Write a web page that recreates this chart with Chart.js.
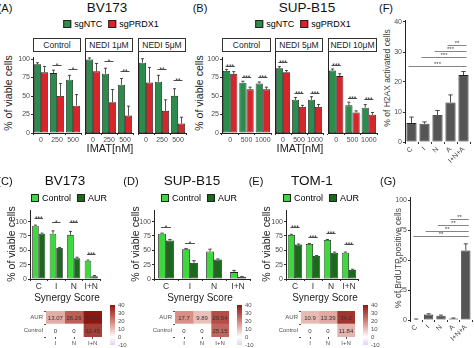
<!DOCTYPE html>
<html>
<head>
<meta charset="utf-8">
<script src="https://cdn.jsdelivr.net/npm/chart.js@4.4.0/dist/chart.umd.min.js"></script>
<style>
  body { margin: 0; background: #fff; }
  #fig { position: relative; width: 474px; height: 348px; overflow: hidden; font-family: "Liberation Sans", Arial, sans-serif; }
  .t { position: absolute; white-space: nowrap; line-height: 1; }
  .strip { position: absolute; box-sizing: border-box; border: 1px solid #333; background: #fff; font-size: 8.5px; color: #222; text-align: center; }
  .leg { position: absolute; display: flex; align-items: center; transform: translate(-50%, -50%); white-space: nowrap; }
  .leg i { display: inline-block; width: 6px; height: 6px; border: 1px solid #222; margin: 0 3px 0 6px; }
  canvas { position: absolute; }
</style>
</head>
<body>
<div id="fig"></div>
<script>
/* ===== data ===== */
// (A) BV173, sgNTC vs sgPRDX1
const imatA = ['0', '250', '500'];
const facetsA = ['Control', 'NEDI 1μM', 'NEDI 5μM'];
const ntcA = [[93, 81, 72], [93, 75, 61], [89, 65, 47]];
const ntcErrA = [[2, 4, 6], [2, 7, 8], [5, 8, 9]];
const prdxA = [[82, 50, 37], [78, 39, 22], [64, 28, 12]];
const prdxErrA = [[8, 17, 15], [10, 16, 12], [19, 14, 8]];
const sigA = [['', '*', '*'], ['', '*', '**'], ['', '**', '**']];
const sigYA = [[0, 92, 87], [0, 91, 78], [0, 81, 67]];

// (B) SUP-B15
const imatB = ['0', '500', '1000'];
const facetsB = ['Control', 'NEDI 5μM', 'NEDI 10μM'];
const ntcB = [[84, 68, 67], [82, 42, 42], [79, 35, 32]];
const ntcErrB = [[2, 2, 2], [2, 3, 4], [2, 4, 4]];
const prdxB = [[80, 59, 59], [77, 33, 33], [72, 26, 23]];
const prdxErrB = [[3, 3, 3], [2, 2, 3], [3, 2, 3]];
const sigB = [['***', '***', '***'], ['***', '***', '***'], ['***', '***', '***']];
const sigYB = [[90, 76, 76], [90, 51, 51], [86, 44, 43]];

const viableTicks = [0, 25, 50, 75, 100];

// (C)(D)(E) Control vs AUR
const treat = ['C', 'I', 'N', 'I+N'];
const ctrlC = [93, 79, 77, 32], ctrlErrC = [1, 5, 6, 1];
const aurC = [79, 54, 36, 5], aurErrC = [1, 1, 2, 1];
const sigC = ['***', '*', '***', '***'], sigYC = [106, 100, 100, 43];

const ctrlD = [79, 52, 48, 12], ctrlErrD = [1, 1, 4, 3];
const aurD = [67, 28, 34, 4], aurErrD = [2, 4, 1, 0.5];
const sigD = ['*', '*', '', ''], sigYD = [90, 62, 0, 0];

const ctrlE = [77, 61, 68, 46], ctrlErrE = [1, 1, 1, 1];
const aurE = [60, 40, 46, 16], aurErrE = [1, 1, 1, 1];
const sigE = ['***', '***', '***', '***'], sigYE = [90, 74, 80, 61];

// synergy score heatmaps
const synRows = ['AUR', 'Control'];
const synCols = ['I', 'N', 'I+N'];
const synC = [[13.07, 26.26, 51.23], [0, 0, 32.45]];
const synD = [[17.7, 9.89, 29.54], [0, 0, 25.15]];
const synE = [[10.9, 13.39, 34.2], [0, 0, 11.84]];
const synTicks = [40, 30, 20, 10, 0, -10];

// (F) H2AX
const fgLabels = ['C', 'I', 'N', 'A', 'I+N+A'];
const h2ax = [6.3, 6.1, 9.0, 13.2, 22.3];
const h2axErr = [2.0, 0.6, 1.5, 2.5, 1.2];
const h2axTicks = [0, 10, 20, 30, 40];
const h2axFrom = [0, 1, 2, 3];
const h2axSigY = [25.5, 28.3, 30.2, 32.2];
const h2axSig = ['***', '***', '***', '**'];

// (G) BrdUTP
const brdu = [0.5, 4.5, 3.5, 1.2, 58];
const brduErr = [0.3, 0.7, 0.6, 0.5, 5.5];
const brduTicks = [0, 25, 50, 75, 100];
const brduFrom = [0, 1, 2, 3];
const brduSigY = [70, 74, 79, 84];
const brduSig = ['**', '**', '**', '**'];

/* ===== styles ===== */
const FONT = '"Liberation Sans", Arial, sans-serif';
const GREEN = '#2b8c4c', RED = '#d6262a';
const LIME = '#3cd83c', DKGREEN = '#196b1b';
const GRAY = '#555555';
const heatStops = [[-10, [226, 210, 246]], [0, [255, 255, 255]], [20, [212, 128, 118]], [40, [140, 24, 20]]];

Chart.defaults.font.family = FONT;
Chart.defaults.color = '#4d4d4d';

const fig = document.getElementById('fig');

function txt(s, x, y, size, o = {}) {
  const d = document.createElement('div');
  d.className = 't';
  d.textContent = s;
  d.style.left = x + 'px';
  d.style.top = y + 'px';
  d.style.fontSize = size + 'px';
  d.style.color = o.color || '#111';
  d.style.transform = 'translate(-50%,-50%)' + (o.rot ? ` rotate(${o.rot}deg)` : '');
  fig.appendChild(d);
}

function legend(items, x, y, size) {
  const d = document.createElement('div');
  d.className = 'leg';
  d.style.left = x + 'px';
  d.style.top = y + 'px';
  d.style.fontSize = size + 'px';
  d.innerHTML = items.map(([l, c]) => `<i style="background:${c}"></i><span>${l}</span>`).join('');
  fig.appendChild(d);
}

function strip(s, l, r, t, b) {
  const d = document.createElement('div');
  d.className = 'strip';
  d.textContent = s;
  d.style.left = l + 'px';
  d.style.top = t + 'px';
  d.style.width = (r - l) + 'px';
  d.style.height = (b - t) + 'px';
  d.style.lineHeight = (b - t - 2) + 'px';
  fig.appendChild(d);
}

function canvasFor(a, m) {
  const c = document.createElement('canvas');
  const w = a.r - a.l + m.l + m.r, h = a.b - a.t + m.t + m.b;
  c.width = w; c.height = h;
  c.style.left = (a.l - m.l) + 'px';
  c.style.top = (a.t - m.t) + 'px';
  c.style.width = w + 'px';
  c.style.height = h + 'px';
  fig.appendChild(c);
  return c;
}

function heatColor(v) {
  if (v <= heatStops[0][0]) return `rgb(${heatStops[0][1]})`;
  for (let i = 1; i < heatStops.length; i++) {
    const [v1, c1] = heatStops[i], [v0, c0] = heatStops[i - 1];
    if (v <= v1) {
      const f = (v - v0) / (v1 - v0);
      return `rgb(${c0.map((c, k) => Math.round(c + (c1[k] - c) * f)).join(',')})`;
    }
  }
  return `rgb(${heatStops[heatStops.length - 1][1]})`;
}

/* ===== plugins: error bars, significance, heatmap labels ===== */
const extras = {
  id: 'extras',
  afterDatasetsDraw(chart, args, o) {
    const ctx = chart.ctx, ys = chart.scales.y;
    ctx.save();
    ctx.strokeStyle = '#222';
    ctx.fillStyle = '#333';
    ctx.lineWidth = 0.8;
    (o.err || []).forEach((errs, di) => {
      const meta = chart.getDatasetMeta(di);
      meta.data.forEach((el, i) => {
        const v = chart.data.datasets[di].data[i];
        const yt = ys.getPixelForValue(v + errs[i]);
        const cap = Math.max(1.5, el.width * 0.22);
        ctx.beginPath();
        ctx.moveTo(el.x, el.y);
        ctx.lineTo(el.x, yt);
        ctx.moveTo(el.x - cap, yt);
        ctx.lineTo(el.x + cap, yt);
        ctx.stroke();
      });
    });
    ctx.font = `${o.sigSize || 7}px ${FONT}`;
    ctx.textAlign = 'center';
    ctx.textBaseline = 'alphabetic';
    (o.sig || []).forEach((s, i) => {
      if (!s) return;
      const a = chart.getDatasetMeta(0).data[i], b = chart.getDatasetMeta(1).data[i];
      const y = Math.round(ys.getPixelForValue(o.sigY[i])) + 0.5;
      ctx.beginPath();
      ctx.moveTo(a.x - 1, y);
      ctx.lineTo(b.x + 1, y);
      ctx.stroke();
      ctx.fillText(s, (a.x + b.x) / 2, y + 2);
    });
    if (o.brk) {
      const els = chart.getDatasetMeta(0).data;
      o.brk.from.forEach((f, i) => {
        const y = Math.round(ys.getPixelForValue(o.brk.y[i])) + 0.5;
        const x0 = els[f].x - 3, x1 = els[o.brk.to].x + 3;
        ctx.strokeStyle = '#666';
        ctx.beginPath();
        ctx.moveTo(x0, y);
        ctx.lineTo(x1, y);
        ctx.stroke();
        ctx.fillStyle = '#444';
        ctx.fillText(o.brk.text[i], (x0 + x1) / 2, y - 0.5);
      });
    }
    if (o.heat) {
      ctx.font = `6px ${FONT}`;
      ctx.textBaseline = 'middle';
      ctx.fillStyle = '#333';
      o.heat.forEach((row, r) => row.forEach((v, c) => {
        const el = chart.getDatasetMeta(c).data[r];
        const cx = (el.x + el.base) / 2;
        ctx.fillText(String(v), cx, el.y + 0.5);
      }));
      // colour bar
      const ca = chart.chartArea;
      const x = ca.right + 8, top = ca.top - 6, bot = ca.bottom + 8, w = 5;
      const lo = o.cbTicks[o.cbTicks.length - 1], hi = o.cbTicks[0];
      const g = ctx.createLinearGradient(0, top, 0, bot);
      heatStops.forEach(([v, c]) => g.addColorStop((hi - v) / (hi - lo), `rgb(${c})`));
      ctx.fillStyle = g;
      ctx.fillRect(x, top, w, bot - top);
      ctx.textAlign = 'left';
      ctx.fillStyle = '#4d4d4d';
      ctx.font = `6px ${FONT}`;
      o.cbTicks.forEach(v => {
        const y = top + (hi - v) / (hi - lo) * (bot - top);
        ctx.fillText(String(v), x + w + 3, y);
      });
    }
    ctx.restore();
  }
};
Chart.register(extras);

function axisY(show, max, ticks, w) {
  return {
    min: 0, max,
    afterBuildTicks: s => { s.ticks = ticks.map(v => ({ value: v })); },
    afterFit: s => { s.width = w; },
    ticks: { display: show, font: { size: 7 }, color: '#4d4d4d', padding: 1 },
    grid: { display: show, drawOnChartArea: false, drawTicks: true, tickLength: 2, color: '#333' },
    border: { display: true, color: '#222', width: 1 }
  };
}

function barChart(a, m, labels, datasets, o) {
  return new Chart(canvasFor(a, m), {
    type: 'bar',
    data: { labels, datasets },
    options: {
      responsive: false, animation: false, devicePixelRatio: 1,
      layout: { autoPadding: false, padding: { left: 0, top: m.t, right: m.r, bottom: 0 } },
      datasets: { bar: { categoryPercentage: o.cp, barPercentage: o.bp, borderColor: '#222', borderWidth: 0.8, borderSkipped: false } },
      plugins: { legend: { display: false }, tooltip: { enabled: false }, extras: o.extras },
      scales: {
        x: {
          afterFit: s => { s.height = m.b; },
          ticks: { font: { size: o.xSize || 7 }, color: o.xColor || '#4d4d4d', padding: 1, autoSkip: false,
                   minRotation: o.rot || 0, maxRotation: o.rot || 0 },
          grid: { display: true, drawOnChartArea: false, drawTicks: true, tickLength: 2, color: '#333' },
          border: { display: o.xBorder !== false, color: '#222', width: 1 }
        },
        y: axisY(o.yShow, o.yMax, o.yTicks, m.l)
      }
    }
  });
}

function heatChart(a, m, vals) {
  return new Chart(canvasFor(a, m), {
    type: 'bar',
    data: {
      labels: synRows,
      datasets: synCols.map((c, j) => ({
        label: c,
        data: synRows.map(() => 1),
        backgroundColor: synRows.map((r, i) => heatColor(vals[i][j]))
      }))
    },
    options: {
      indexAxis: 'y',
      responsive: false, animation: false, devicePixelRatio: 1,
      layout: { autoPadding: false, padding: { left: 0, top: m.t, right: m.r, bottom: 0 } },
      datasets: { bar: { categoryPercentage: 1, barPercentage: 1, borderWidth: 0 } },
      plugins: { legend: { display: false }, tooltip: { enabled: false },
                 extras: { heat: vals, cbTicks: synTicks } },
      scales: {
        x: {
          type: 'linear', stacked: true, min: 0, max: synCols.length,
          afterBuildTicks: s => { s.ticks = synCols.map((c, j) => ({ value: j + 0.5 })); },
          afterFit: s => { s.height = m.b; },
          ticks: { font: { size: 6 }, color: '#4d4d4d', padding: 1, callback: v => synCols[Math.floor(v)] },
          grid: { display: true, drawOnChartArea: false, tickLength: 2, color: '#555' },
          border: { display: false }
        },
        y: {
          stacked: true,
          afterFit: s => { s.width = m.l; },
          ticks: { font: { size: 6 }, color: '#4d4d4d', padding: 1 },
          grid: { display: true, drawOnChartArea: false, tickLength: 2, color: '#555' },
          border: { display: false }
        }
      }
    }
  });
}

/* ===== (A) and (B): faceted bars ===== */
function facetPanel(cfg) {
  cfg.facets.forEach((name, f) => {
    const [l, r] = cfg.xs[f];
    strip(name, l, r, 38, 52);
    barChart({ l, r, t: 52, b: 133 }, { l: f === 0 ? 16 : 2, t: 0, r: 1, b: 12 }, cfg.labels, [
      { data: cfg.a[f], backgroundColor: GREEN },
      { data: cfg.b[f], backgroundColor: RED }
    ], {
      cp: 0.88, bp: 1, yShow: f === 0, yMax: 102.5, yTicks: viableTicks,
      extras: { err: [cfg.aErr[f], cfg.bErr[f]], sig: cfg.sig[f], sigY: cfg.sigY[f], sigSize: 6.5 }
    });
  });
}

txt('(A)', 5, 8, 11);
txt('BV173', 107, 8, 13.5);
legend([['sgNTC', GREEN], ['sgPRDX1', RED]], 108, 24, 9);
txt('% of viable cells', 8, 93, 10.5, { rot: -90, color: '#222' });
facetPanel({ facets: facetsA, labels: imatA, xs: [[33, 81], [85, 133], [138, 186]],
  a: ntcA, b: prdxA, aErr: ntcErrA, bErr: prdxErrA, sig: sigA, sigY: sigYA });
txt('IMAT[nM]', 110, 148, 11, { color: '#222' });

txt('(B)', 200, 8, 11);
txt('SUP-B15', 307, 8, 13.5);
legend([['sgNTC', GREEN], ['sgPRDX1', RED]], 300, 24, 9);
txt('% of viable cells', 199, 93, 10.5, { rot: -90, color: '#222' });
facetPanel({ facets: facetsB, labels: imatB, xs: [[222, 271], [275, 323], [328, 377]],
  a: ntcB, b: prdxB, aErr: ntcErrB, bErr: prdxErrB, sig: sigB, sigY: sigYB });
txt('IMAT[nM]', 300, 148, 11, { color: '#222' });

/* ===== (F) ===== */
txt('(F)', 386, 8, 11);
txt('% of H2AX activated cells', 387, 78, 8.5, { rot: -90, color: '#444' });
barChart({ l: 405, r: 470, t: 15, b: 142 }, { l: 14, t: 0, r: 3, b: 28 }, fgLabels, [
  { data: h2ax, backgroundColor: GRAY }
], {
  cp: 1, bp: 0.78, yShow: true, yMax: 40.6, yTicks: h2axTicks, rot: 45, xSize: 7, xColor: '#444', xBorder: false,
  extras: { err: [h2axErr], brk: { from: h2axFrom, to: 4, y: h2axSigY, text: h2axSig }, sigSize: 6 }
});

/* ===== (C)(D)(E) ===== */
function aurPanel(p) {
  txt(p.letter, p.lx, 181, 11);
  txt(p.title, p.tx, 181, 13.5);
  legend([['Control', LIME], ['AUR', DKGREEN]], p.gx, 198, 9);
  txt('% of viable cells', p.yx, 244, 10.5, { rot: -90, color: '#222' });
  barChart({ l: p.l, r: p.r, t: 205, b: 279 }, { l: 14, t: 0, r: 2, b: 12 }, treat, [
    { data: p.ctrl, backgroundColor: LIME },
    { data: p.aur, backgroundColor: DKGREEN }
  ], {
    cp: p.cp, bp: 1, yShow: true, yMax: 120, yTicks: viableTicks, xSize: 8.5, xColor: '#333',
    extras: { err: [p.ctrlErr, p.aurErr], sig: p.sig, sigY: p.sigY, sigSize: 6.5 }
  });
  txt('Synergy Score', p.sx, 298, 10, { color: '#222' });
  heatChart({ l: p.hl, r: p.hr, t: 311, b: 337 }, { l: 32, t: 8, r: 30, b: 11 }, p.syn);
}

aurPanel({ letter: '(C)', lx: 5, title: 'BV173', tx: 65, gx: 66, yx: 11, l: 30, r: 100, cp: 0.75,
  ctrl: ctrlC, ctrlErr: ctrlErrC, aur: aurC, aurErr: aurErrC, sig: sigC, sigY: sigYC,
  sx: 67, hl: 46, hr: 102, syn: synC });
aurPanel({ letter: '(D)', lx: 131, title: 'SUP-B15', tx: 192, gx: 196, yx: 135, l: 154, r: 250, cp: 0.66,
  ctrl: ctrlD, ctrlErr: ctrlErrD, aur: aurD, aurErr: aurErrD, sig: sigD, sigY: sigYD,
  sx: 200, hl: 175, hr: 229, syn: synD });
aurPanel({ letter: '(E)', lx: 256, title: 'TOM-1', tx: 312, gx: 318, yx: 266, l: 286, r: 358, cp: 0.8,
  ctrl: ctrlE, ctrlErr: ctrlErrE, aur: aurE, aurErr: aurErrE, sig: sigE, sigY: sigYE,
  sx: 325, hl: 301, hr: 355, syn: synE });

/* ===== (G) ===== */
txt('(G)', 388, 181, 11);
txt('% of BrdUTP positive cells', 398, 258, 8.5, { rot: -90, color: '#444' });
barChart({ l: 410, r: 472, t: 192, b: 320 }, { l: 14, t: 0, r: 2, b: 28 }, fgLabels, [
  { data: brdu, backgroundColor: GRAY }
], {
  cp: 1, bp: 0.75, yShow: true, yMax: 102.4, yTicks: brduTicks, rot: 45, xSize: 7, xColor: '#444', xBorder: false,
  extras: { err: [brduErr], brk: { from: brduFrom, to: 4, y: brduSigY, text: brduSig }, sigSize: 6 }
});
</script>
</body>
</html>
